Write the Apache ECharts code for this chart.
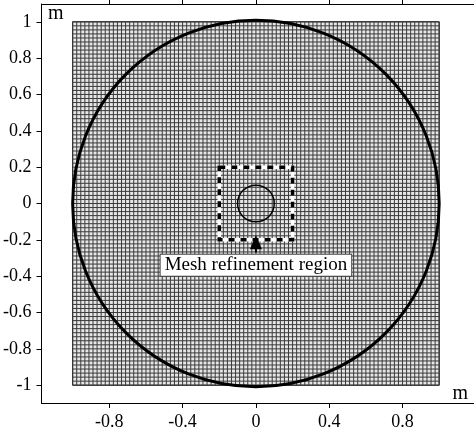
<!DOCTYPE html>
<html>
<head>
<meta charset="utf-8">
<script src="https://cdn.jsdelivr.net/npm/echarts@6/dist/echarts.min.js"></script>
<style>html,body{margin:0;padding:0;background:#fff}#chart{width:474px;height:431px}</style>
</head>
<body>
<div id="chart"></div>
<script>
var xTicks = [-0.8, -0.4, 0, 0.4, 0.8];
var yTicks = [-1, -0.8, -0.6, -0.4, -0.2, 0, 0.2, 0.4, 0.6, 0.8, 1];
var meshMin = -1, meshMax = 1, meshCells = 90;
var bigCircle = [0, 0, 1];
var smallCircle = [0, 0, 0.1];
var refineBox = [-0.2, -0.2, 0.2, 0.2];
var arrow = [0, -0.27, 0, -0.175];
var label = [0, -0.34, 'Mesh refinement region'];

var meshLines = [];
for (var i = 0; i <= meshCells; i++) {
	var v = meshMin + (meshMax - meshMin) * i / meshCells;
	meshLines.push([v, 0]);
	meshLines.push([v, 1]);
}

var chart = echarts.init(document.getElementById('chart'));
var font = '"Liberation Serif", "DejaVu Serif", serif';

function axisX(pos, show) {
	return {
		type: 'value', position: pos, min: -1.17, max: 1.19,
		axisLine: {show: true, onZero: false, lineStyle: {color: '#000', width: 1}},
		axisTick: {show: true, inside: false, length: 5, customValues: xTicks, lineStyle: {color: '#000'}},
		axisLabel: {show: show, customValues: xTicks, color: '#000', fontFamily: font, fontSize: 18, margin: 10,
			formatter: function (v) { return String(Math.round(v * 10) / 10); }},
		splitLine: {show: false}
	};
}
function axisY(pos, show) {
	return {
		type: 'value', position: pos, min: -1.098, max: 1.098,
		axisLine: {show: true, onZero: false, lineStyle: {color: '#000', width: 1}},
		axisTick: {show: true, inside: false, length: 5, customValues: yTicks, lineStyle: {color: '#000'}},
		axisLabel: {show: show, customValues: yTicks, color: '#000', fontFamily: font, fontSize: 18, margin: 10,
			formatter: function (v) { return String(Math.round(v * 10) / 10); }},
		splitLine: {show: false}
	};
}

var option = {
	animation: false,
	grid: {left: 41, right: 0, top: 4, bottom: 25, containLabel: false},
	xAxis: [axisX('bottom', true), axisX('top', false)],
	yAxis: [axisY('left', true), axisY('right', false)],
	graphic: [
		{type: 'text', left: 48, top: 4, style: {text: 'm', font: '20px ' + font, fill: '#000'}},
		{type: 'text', right: 6, bottom: 27, style: {text: 'm', font: '20px ' + font, fill: '#000'}}
	],
	series: [
		{
			type: 'custom', coordinateSystem: 'cartesian2d', data: [[0]],
			renderItem: function (params, api) {
				var a = api.coord([meshMin, meshMax]), b = api.coord([meshMax, meshMin]);
				return {type: 'rect', shape: {x: a[0], y: a[1], width: b[0] - a[0], height: b[1] - a[1]},
					style: {fill: '#e6e6e6', stroke: '#000', lineWidth: 1}};
			}
		},
		{
			type: 'custom', coordinateSystem: 'cartesian2d', data: meshLines,
			renderItem: function (params, api) {
				var v = api.value(0), dir = api.value(1);
				var p1 = dir ? api.coord([meshMin, v]) : api.coord([v, meshMin]);
				var p2 = dir ? api.coord([meshMax, v]) : api.coord([v, meshMax]);
				return {type: 'line', shape: {x1: p1[0], y1: p1[1], x2: p2[0], y2: p2[1]},
					style: {stroke: '#3a3a3a', lineWidth: 1}};
			}
		},
		{
			type: 'custom', coordinateSystem: 'cartesian2d', data: [bigCircle, smallCircle],
			renderItem: function (params, api) {
				var c = api.coord([api.value(0), api.value(1)]);
				var r = api.size([api.value(2), 0])[0];
				return {type: 'circle', shape: {cx: c[0], cy: c[1], r: r},
					style: {fill: 'none', stroke: '#000', lineWidth: params.dataIndex === 0 ? 3 : 1.5}};
			}
		},
		{
			type: 'custom', coordinateSystem: 'cartesian2d', data: [refineBox],
			renderItem: function (params, api) {
				var a = api.coord([api.value(0), api.value(3)]), b = api.coord([api.value(2), api.value(1)]);
				var shape = {x: a[0], y: a[1], width: b[0] - a[0], height: b[1] - a[1]};
				return {type: 'group', children: [
					{type: 'rect', shape: shape, style: {fill: 'none', stroke: '#fff', lineWidth: 3.5}},
					{type: 'rect', shape: shape, style: {fill: 'none', stroke: '#000', lineWidth: 3.5, lineDash: [6, 6]}}
				]};
			}
		},
		{
			type: 'custom', coordinateSystem: 'cartesian2d', data: [label],
			renderItem: function (params, api) {
				var c = api.coord([label[0], label[1]]);
				return {type: 'text', x: c[0], y: c[1], style: {
					text: label[2], font: '19px ' + font, fill: '#000', align: 'center', verticalAlign: 'middle',
					backgroundColor: '#fff', borderColor: '#444', borderWidth: 1, padding: [1, 4]}};
			}
		},
		{
			type: 'custom', coordinateSystem: 'cartesian2d', data: [arrow],
			renderItem: function (params, api) {
				var p1 = api.coord([api.value(0), api.value(1)]), p2 = api.coord([api.value(2), api.value(3)]);
				return {type: 'group', children: [
					{type: 'line', shape: {x1: p1[0], y1: p1[1], x2: p2[0], y2: p2[1] + 8}, style: {stroke: '#000', lineWidth: 2}},
					{type: 'polygon', shape: {points: [[p2[0], p2[1]], [p2[0] - 6, p2[1] + 14], [p2[0] + 6, p2[1] + 14]]}, style: {fill: '#000'}}
				]};
			}
		}
	]
};
chart.setOption(option);
</script>
</body>
</html>
